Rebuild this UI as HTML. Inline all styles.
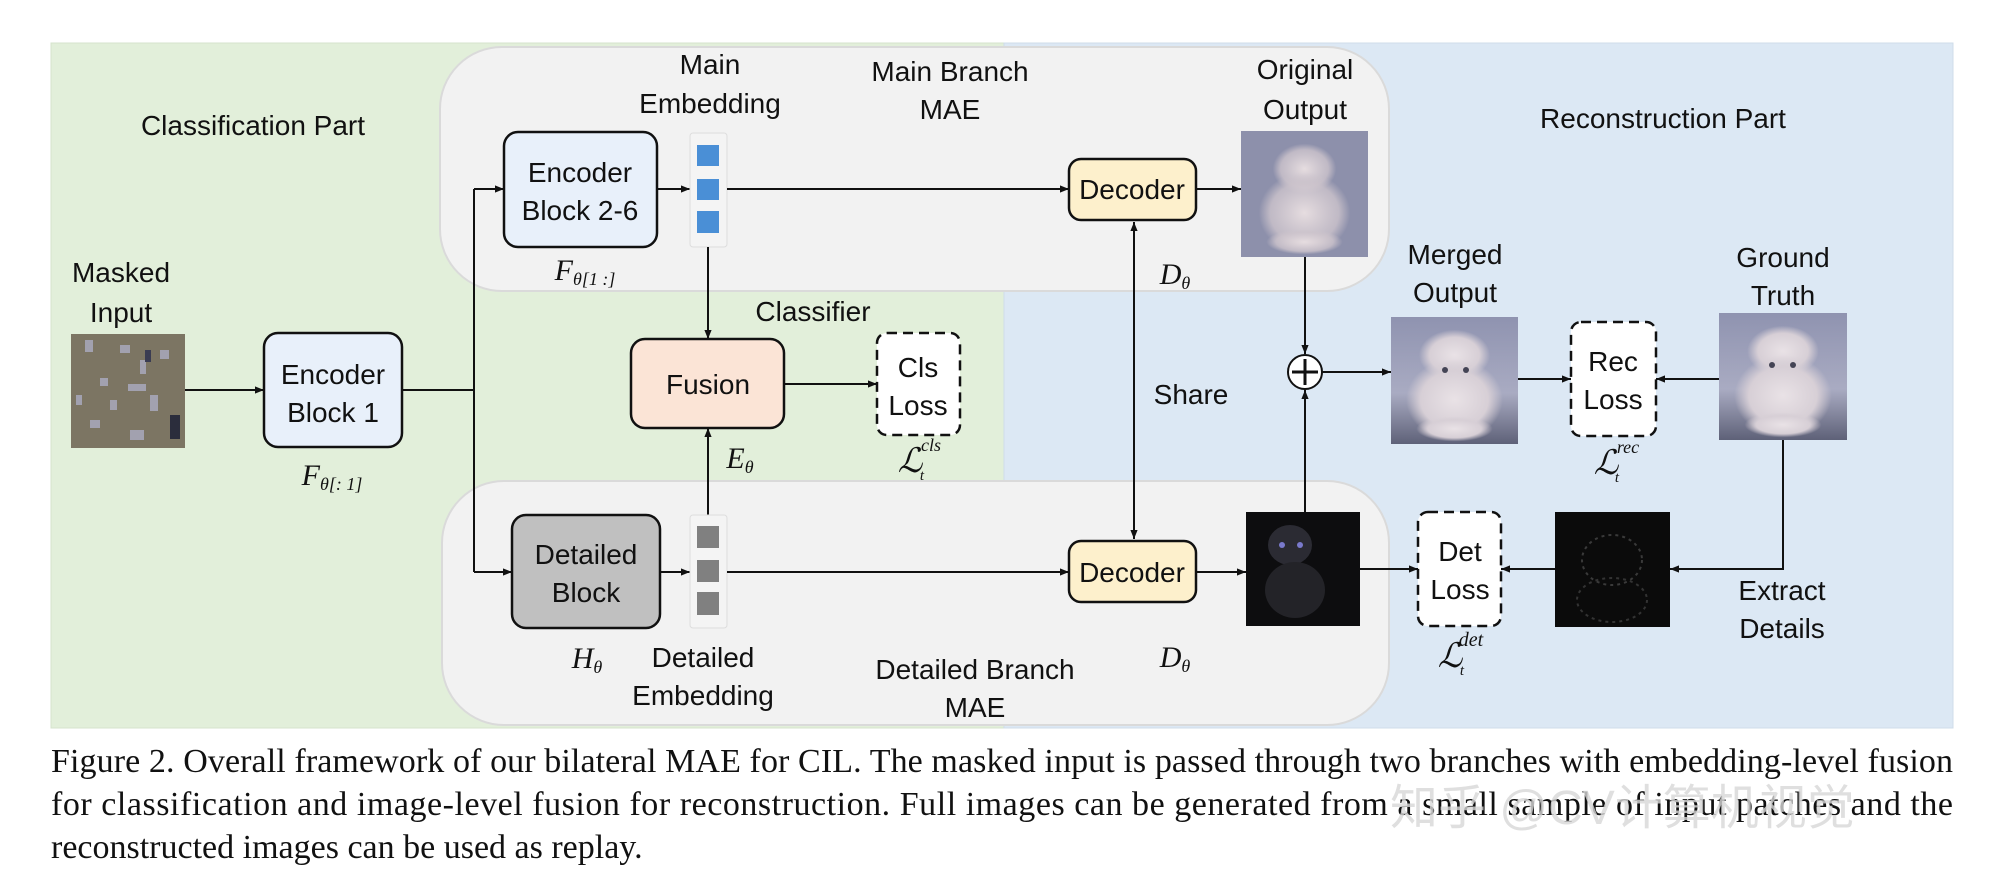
<!DOCTYPE html>
<html><head><meta charset="utf-8"><style>
html,body{margin:0;padding:0;background:#fff;}
svg{display:block}
.t{font-family:"Liberation Sans",sans-serif;font-size:28px;fill:#111;text-anchor:middle}
.m{font-family:"Liberation Serif",serif;font-style:italic;fill:#111;text-anchor:middle}
.cap{font-family:"Liberation Serif",serif;font-size:34px;fill:#111}
</style></head><body>
<svg width="2000" height="890" viewBox="0 0 2000 890" xmlns="http://www.w3.org/2000/svg">
<defs>
<marker id="a" viewBox="0 0 10 10" refX="10" refY="5" markerWidth="9" markerHeight="9" orient="auto-start-reverse" markerUnits="userSpaceOnUse"><path d="M0,1 L10,5 L0,9 z" fill="#111"/></marker>
<linearGradient id="bgc" x1="0" y1="0" x2="0" y2="1"><stop offset="0" stop-color="#8f93b0"/><stop offset="0.6" stop-color="#a9abc2"/><stop offset="1" stop-color="#5e6178"/></linearGradient>
<radialGradient id="catb" cx="0.5" cy="0.5" r="0.5"><stop offset="0" stop-color="#e9e2e6"/><stop offset="0.7" stop-color="#d7cfd6"/><stop offset="1" stop-color="#d7cfd6" stop-opacity="0"/></radialGradient>
<radialGradient id="catp" cx="0.5" cy="0.5" r="0.5"><stop offset="0" stop-color="#e6dde0"/><stop offset="0.75" stop-color="#cdc4cc" stop-opacity="0.8"/><stop offset="1" stop-color="#cdc4cc" stop-opacity="0"/></radialGradient>
<g id="cat">
<ellipse cx="0.5" cy="0.3" rx="0.28" ry="0.2" fill="url(#catb)"/>
<ellipse cx="0.5" cy="0.65" rx="0.38" ry="0.32" fill="url(#catb)"/>
<ellipse cx="0.5" cy="0.88" rx="0.3" ry="0.1" fill="url(#catb)"/>
</g>
</defs>
<rect x="51" y="43" width="953" height="685" fill="#e2efda" stroke="#d5e3cc"/>
<rect x="1004" y="43" width="949" height="685" fill="#dce8f4" stroke="#cfdcea"/>
<rect x="440" y="47" width="949" height="244" rx="62" fill="#f2f2f2" stroke="#dadada" stroke-width="2"/>
<rect x="442" y="481" width="947" height="244" rx="62" fill="#f2f2f2" stroke="#dadada" stroke-width="2"/>

<text class="t" x="253" y="135">Classification Part</text>
<text class="t" x="1663" y="128">Reconstruction Part</text>
<text class="t" x="121" y="282">Masked</text>
<text class="t" x="121" y="322">Input</text>
<text class="t" x="710" y="74">Main</text>
<text class="t" x="710" y="113">Embedding</text>
<text class="t" x="950" y="81">Main Branch</text>
<text class="t" x="950" y="119">MAE</text>
<text class="t" x="1305" y="79">Original</text>
<text class="t" x="1305" y="119">Output</text>
<text class="t" x="813" y="321">Classifier</text>
<text class="t" x="1191" y="404">Share</text>
<text class="t" x="1455" y="264">Merged</text>
<text class="t" x="1455" y="302">Output</text>
<text class="t" x="1783" y="267">Ground</text>
<text class="t" x="1783" y="305">Truth</text>
<text class="t" x="1782" y="600">Extract</text>
<text class="t" x="1782" y="638">Details</text>
<text class="t" x="703" y="667">Detailed</text>
<text class="t" x="703" y="705">Embedding</text>
<text class="t" x="975" y="679">Detailed Branch</text>
<text class="t" x="975" y="717">MAE</text>

<rect x="71" y="334" width="114" height="114" fill="#7c7563"/>
<g fill="#a7a6b8" opacity="0.9">
<rect x="85" y="340" width="8" height="12"/><rect x="120" y="345" width="10" height="8"/><rect x="140" y="360" width="6" height="14"/><rect x="100" y="378" width="8" height="8"/><rect x="128" y="384" width="18" height="7"/><rect x="110" y="400" width="7" height="10"/><rect x="150" y="395" width="8" height="16"/><rect x="90" y="420" width="10" height="8"/><rect x="130" y="430" width="14" height="10"/><rect x="76" y="395" width="6" height="10"/><rect x="160" y="350" width="9" height="9"/>
</g>
<rect x="170" y="415" width="10" height="24" fill="#2b2d3c"/>
<rect x="145" y="350" width="6" height="12" fill="#3a3c52"/>

<rect x="264" y="333" width="138" height="114" rx="14" fill="#e8f0fa" stroke="#111" stroke-width="2.5"/>
<text class="t" x="333" y="384">Encoder</text>
<text class="t" x="333" y="422">Block 1</text>
<text class="m" x="332" y="485" font-size="30">F<tspan font-size="18" dy="5">θ[: 1]</tspan></text>

<line x1="185" y1="390" x2="264" y2="390" stroke="#111" stroke-width="2" marker-end="url(#a)"/>
<polyline points="402,390 474,390" fill="none" stroke="#111" stroke-width="2"/>
<line x1="474" y1="189" x2="474" y2="572" stroke="#111" stroke-width="2"/>
<line x1="474" y1="189" x2="504" y2="189" stroke="#111" stroke-width="2" marker-end="url(#a)"/>
<line x1="474" y1="572" x2="512" y2="572" stroke="#111" stroke-width="2" marker-end="url(#a)"/>

<rect x="504" y="132" width="153" height="115" rx="14" fill="#e8f0fa" stroke="#111" stroke-width="2.5"/>
<text class="t" x="580" y="182">Encoder</text>
<text class="t" x="580" y="220">Block 2-6</text>
<text class="m" x="585" y="280" font-size="30">F<tspan font-size="18" dy="5">θ[1 :]</tspan></text>
<line x1="657" y1="189" x2="690" y2="189" stroke="#111" stroke-width="2" marker-end="url(#a)"/>
<rect x="690" y="133" width="37" height="114" rx="3" fill="#f4f4f4" stroke="#ddd"/>
<rect x="697" y="145" width="22" height="21" fill="#4a8fd6"/>
<rect x="697" y="179" width="22" height="21" fill="#4a8fd6"/>
<rect x="697" y="211" width="22" height="22" fill="#4a8fd6"/>
<line x1="727" y1="189" x2="1069" y2="189" stroke="#111" stroke-width="2" marker-end="url(#a)"/>
<line x1="708" y1="247" x2="708" y2="339" stroke="#111" stroke-width="2" marker-end="url(#a)"/>

<rect x="631" y="339" width="153" height="89" rx="14" fill="#fbe4d6" stroke="#111" stroke-width="2.5"/>
<text class="t" x="708" y="394">Fusion</text>
<line x1="784" y1="384" x2="877" y2="384" stroke="#111" stroke-width="2" marker-end="url(#a)"/>
<rect x="877" y="333" width="83" height="102" rx="10" fill="#fff" stroke="#111" stroke-width="2.5" stroke-dasharray="10,6"/>
<text class="t" x="918" y="377">Cls</text>
<text class="t" x="918" y="415">Loss</text>
<text class="m" x="910" y="472" font-size="34">ℒ</text><text class="m" x="931" y="451" font-size="18">cls</text><text class="m" x="922" y="480" font-size="15">t</text>
<text class="m" x="740" y="468" font-size="30">E<tspan font-size="18" dy="5">θ</tspan></text>
<line x1="708" y1="515" x2="708" y2="428" stroke="#111" stroke-width="2" marker-end="url(#a)"/>

<rect x="512" y="515" width="148" height="113" rx="14" fill="#c0c0c0" stroke="#111" stroke-width="2.5"/>
<text class="t" x="586" y="564">Detailed</text>
<text class="t" x="586" y="602">Block</text>
<text class="m" x="587" y="668" font-size="30">H<tspan font-size="18" dy="5">θ</tspan></text>
<line x1="660" y1="572" x2="690" y2="572" stroke="#111" stroke-width="2" marker-end="url(#a)"/>
<rect x="690" y="515" width="37" height="113" rx="3" fill="#f4f4f4" stroke="#ddd"/>
<rect x="697" y="526" width="22" height="22" fill="#808080"/>
<rect x="697" y="560" width="22" height="22" fill="#808080"/>
<rect x="697" y="592" width="22" height="23" fill="#808080"/>
<line x1="727" y1="572" x2="1069" y2="572" stroke="#111" stroke-width="2" marker-end="url(#a)"/>

<rect x="1069" y="159" width="127" height="61" rx="12" fill="#fdf0cc" stroke="#111" stroke-width="2.5"/>
<text class="t" x="1132" y="199">Decoder</text>
<rect x="1069" y="541" width="127" height="61" rx="12" fill="#fdf0cc" stroke="#111" stroke-width="2.5"/>
<text class="t" x="1132" y="582">Decoder</text>
<line x1="1134" y1="222" x2="1134" y2="539" stroke="#111" stroke-width="2" marker-start="url(#a)" marker-end="url(#a)"/>
<text class="m" x="1175" y="284" font-size="30">D<tspan font-size="18" dy="5">θ</tspan></text>
<text class="m" x="1175" y="667" font-size="30">D<tspan font-size="18" dy="5">θ</tspan></text>
<line x1="1196" y1="189" x2="1241" y2="189" stroke="#111" stroke-width="2" marker-end="url(#a)"/>
<line x1="1196" y1="572" x2="1246" y2="572" stroke="#111" stroke-width="2" marker-end="url(#a)"/>

<rect x="1241" y="131" width="127" height="126" fill="#8d90ab"/>
<g transform="translate(1241,131) scale(127,126)"><ellipse cx="0.5" cy="0.3" rx="0.25" ry="0.2" fill="url(#catp)"/><ellipse cx="0.5" cy="0.65" rx="0.36" ry="0.32" fill="url(#catp)"/><ellipse cx="0.5" cy="0.88" rx="0.3" ry="0.1" fill="url(#catp)"/></g>

<rect x="1246" y="512" width="114" height="114" fill="#0d0d0f"/>
<ellipse cx="1290" cy="545" rx="22" ry="20" fill="#2b2b33"/>
<ellipse cx="1295" cy="590" rx="30" ry="28" fill="#232328"/>
<circle cx="1282" cy="545" r="3" fill="#7a7acc"/><circle cx="1300" cy="545" r="3" fill="#7a7acc"/>

<line x1="1305" y1="257" x2="1305" y2="354" stroke="#111" stroke-width="2" marker-end="url(#a)"/>
<line x1="1305" y1="512" x2="1305" y2="390" stroke="#111" stroke-width="2" marker-end="url(#a)"/>
<circle cx="1305" cy="372" r="17" fill="#fff" stroke="#111" stroke-width="2"/>
<line x1="1292" y1="372" x2="1318" y2="372" stroke="#111" stroke-width="3"/>
<line x1="1305" y1="359" x2="1305" y2="385" stroke="#111" stroke-width="3"/>
<line x1="1322" y1="372" x2="1391" y2="372" stroke="#111" stroke-width="2" marker-end="url(#a)"/>

<rect x="1391" y="317" width="127" height="127" fill="url(#bgc)"/>
<use href="#cat" transform="translate(1391,317) scale(127,127)"/>
<circle cx="1445" cy="370" r="3" fill="#445"/><circle cx="1466" cy="370" r="3" fill="#445"/>
<line x1="1518" y1="379" x2="1571" y2="379" stroke="#111" stroke-width="2" marker-end="url(#a)"/>
<rect x="1571" y="322" width="85" height="114" rx="10" fill="#fff" stroke="#111" stroke-width="2.5" stroke-dasharray="10,6"/>
<text class="t" x="1613" y="371">Rec</text>
<text class="t" x="1613" y="409">Loss</text>
<text class="m" x="1606" y="474" font-size="34">ℒ</text><text class="m" x="1628" y="453" font-size="18">rec</text><text class="m" x="1617" y="482" font-size="15">t</text>

<rect x="1719" y="313" width="128" height="127" fill="url(#bgc)"/>
<use href="#cat" transform="translate(1719,313) scale(128,127)"/>
<circle cx="1772" cy="365" r="3" fill="#445"/><circle cx="1793" cy="365" r="3" fill="#445"/>
<line x1="1719" y1="379" x2="1656" y2="379" stroke="#111" stroke-width="2" marker-end="url(#a)"/>
<polyline points="1783,440 1783,569 1670,569" fill="none" stroke="#111" stroke-width="2" marker-end="url(#a)"/>

<rect x="1555" y="512" width="115" height="115" fill="#0b0b0b"/>
<ellipse cx="1612" cy="560" rx="30" ry="25" fill="none" stroke="#3a3a3a" stroke-width="2" stroke-dasharray="3,4"/>
<ellipse cx="1612" cy="600" rx="35" ry="22" fill="none" stroke="#333" stroke-width="2" stroke-dasharray="3,4"/>
<line x1="1555" y1="569" x2="1501" y2="569" stroke="#111" stroke-width="2" marker-end="url(#a)"/>
<line x1="1360" y1="569" x2="1418" y2="569" stroke="#111" stroke-width="2" marker-end="url(#a)"/>
<rect x="1418" y="512" width="83" height="114" rx="10" fill="#fff" stroke="#111" stroke-width="2.5" stroke-dasharray="10,6"/>
<text class="t" x="1460" y="561">Det</text>
<text class="t" x="1460" y="599">Loss</text>
<text class="m" x="1450" y="667" font-size="34">ℒ</text><text class="m" x="1471" y="646" font-size="20" font-style="normal">det</text><text class="m" x="1462" y="675" font-size="15">t</text>

<text class="cap" x="51" y="772" textLength="1902" lengthAdjust="spacing">Figure 2. Overall framework of our bilateral MAE for CIL. The masked input is passed through two branches with embedding-level fusion</text>
<text class="cap" x="51" y="815" textLength="1902" lengthAdjust="spacing">for classification and image-level fusion for reconstruction.  Full images can be generated from a small sample of input patches and the</text>
<text class="cap" x="51" y="858">reconstructed images can be used as replay.</text>
<text x="1390" y="824" font-family="'Liberation Sans','Noto Sans CJK SC',sans-serif" font-size="48" fill="#d8d8d8" opacity="0.8">知乎 @CV计算机视觉</text>
</svg>
</body></html>
